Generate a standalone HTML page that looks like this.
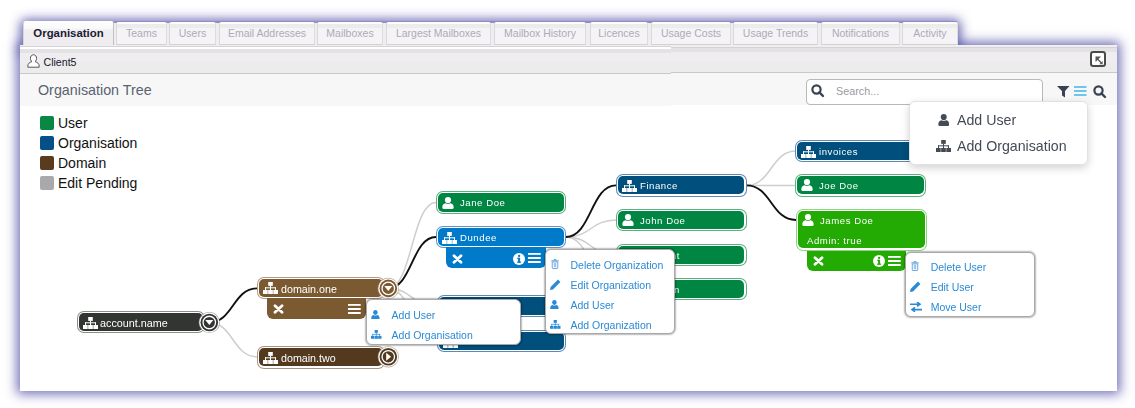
<!DOCTYPE html>
<html><head><meta charset="utf-8"><style>
*{box-sizing:border-box;margin:0;padding:0}
html,body{width:1135px;height:408px;overflow:hidden;background:#fff;font-family:"Liberation Sans",sans-serif}
.abs{position:absolute}
#shadow1{position:absolute;left:20px;top:45px;width:1097px;height:346px;box-shadow:0 0 11px 3px rgba(92,90,172,0.88)}
#shadow2{position:absolute;left:23px;top:22px;width:935px;height:30px;box-shadow:0 0 11px 3px rgba(92,90,172,0.88);border-radius:3px 3px 0 0}
#panel{position:absolute;left:20px;top:45px;width:1097px;height:346px;background:#fff}
#tabbar{position:absolute;left:23px;top:23px;width:935px;height:23px;background:#efedf1}
#notch{position:absolute;left:24px;top:21px;width:933px;height:2.5px;background:#8f8dc4}
.tab{position:absolute;top:21.5px;height:23.5px;background:linear-gradient(#fcfcfc 0,#fcfcfc 1.5px,#ececec 2px,#ececec 6.5px,#f6f3f6 6.5px);border-left:1px solid #d9d9d9;border-right:1px solid #dddddd;border-bottom:1px solid #d2d2d2;border-radius:2px 2px 0 0;font-size:10.5px;color:#acabb8;text-align:center;line-height:23px;white-space:nowrap}
.tab.act{top:21px;background:linear-gradient(#fdfdfd 0,#fbfafb 7px,#f0eef1 9px,#eeecef 24px);font-weight:bold;color:#1d1b33;font-size:11.4px;border-left:1px solid #d8d6da;border-right:1px solid #c0c0c0;border-bottom:none;height:25px;line-height:25px}
.node{position:absolute;border:1px solid #fff}
.ntext{position:absolute;color:#fff;white-space:nowrap;line-height:14px;will-change:transform}
.menu{position:absolute;background:#fff;border:1px solid #a9a9a9;border-radius:6px;box-shadow:0 0 1.5px 0.5px rgba(0,0,0,0.28)}
.mtext{position:absolute;color:#2a8ad6;white-space:nowrap;line-height:14px}
.leg{position:absolute;left:40px;width:14px;height:14px;border-radius:2px}
.legt{position:absolute;left:58px;font-size:14px;color:#111;line-height:16px;white-space:nowrap}
</style></head><body>
<div id="shadow2"></div><div id="shadow1"></div><div id="notch"></div><div id="tabbar"></div>
<div class="tab act" style="left:23px;width:91px">Organisation</div>
<div class="tab" style="left:116px;width:51px">Teams</div>
<div class="tab" style="left:169px;width:47px">Users</div>
<div class="tab" style="left:219px;width:96px">Email Addresses</div>
<div class="tab" style="left:317px;width:66px">Mailboxes</div>
<div class="tab" style="left:386px;width:105px">Largest Mailboxes</div>
<div class="tab" style="left:494px;width:92px">Mailbox History</div>
<div class="tab" style="left:590px;width:58px">Licences</div>
<div class="tab" style="left:651px;width:80px">Usage Costs</div>
<div class="tab" style="left:733px;width:85px">Usage Trends</div>
<div class="tab" style="left:821px;width:79px">Notifications</div>
<div class="tab" style="left:902px;width:56px">Activity</div>
<div id="panel"></div>
<div class="abs" style="left:20px;top:45px;width:651px;height:1px;background:#f0eef1"></div><div class="abs" style="left:20px;top:46px;width:651px;height:1px;background:#d3d2d4"></div><div class="abs" style="left:20px;top:47px;width:651px;height:2px;background:#ffffff"></div><div class="abs" style="left:20px;top:49px;width:651px;height:4px;background:#e3e3e3"></div><div class="abs" style="left:20px;top:53px;width:651px;height:10px;background:#efedf0"></div><div class="abs" style="left:20px;top:63px;width:651px;height:10px;background:#ececec"></div><div class="abs" style="left:20px;top:73px;width:651px;height:1px;background:#c9c9c9"></div><div class="abs" style="left:20px;top:74px;width:651px;height:32px;background:#f7f7f7"></div>
<div class="abs" style="left:671px;top:45px;width:446px;height:2px;background:#f0eef1"></div><div class="abs" style="left:671px;top:47px;width:446px;height:1px;background:#d4d4d4"></div><div class="abs" style="left:671px;top:48px;width:446px;height:4px;background:#e3e3e3"></div><div class="abs" style="left:671px;top:52px;width:446px;height:10px;background:#efedf0"></div><div class="abs" style="left:671px;top:62px;width:446px;height:10px;background:#ececec"></div><div class="abs" style="left:671px;top:72px;width:446px;height:1px;background:#c9c9c9"></div><div class="abs" style="left:671px;top:73px;width:446px;height:32px;background:#f7f7f7"></div>
<div class="abs" style="left:20px;top:45px;width:93px;height:1px;background:#efedf0"></div>
<svg class="abs" style="left:27px;top:54px" width="13" height="14" viewBox="0 0 13 14"><path d="M6.5 0.8 C4.6 0.8 3.4 2.4 3.4 4.3 C3.4 5.8 4.2 7 5 7.6 C2.5 8.3 0.8 9.6 0.8 12.2 V13.2 H12.2 V12.2 C12.2 9.6 10.5 8.3 8 7.6 C8.8 7 9.6 5.8 9.6 4.3 C9.6 2.4 8.4 0.8 6.5 0.8 Z" fill="#fff" stroke="#555" stroke-width="1"/></svg>
<div class="abs" style="left:43.5px;top:55px;font-size:10.6px;color:#14142a;line-height:14px">Client5</div>
<svg class="abs" style="left:1090px;top:51px" width="16" height="16" viewBox="0 0 16 16"><rect x="1" y="1" width="14" height="14" rx="2.2" fill="#fff" stroke="#4a4a4a" stroke-width="2"/><path d="M5.5 5.5 L11 5.5 L5.5 11 Z" fill="#555"/><path d="M7.5 8 L11.5 12" stroke="#555" stroke-width="1.2"/><path d="M12.6 10 L12.6 13.2 L9.4 13.2 Z" fill="#555"/></svg>
<div class="abs" style="left:38px;top:81px;font-size:14.3px;color:#5a6270;line-height:18px;white-space:nowrap">Organisation Tree</div>
<div class="abs" style="left:806px;top:79px;width:237px;height:26px;background:#fff;border:1px solid #b8b8b8;border-radius:4px"></div>
<svg class="abs" style="left:811px;top:84px" width="14" height="14" viewBox="0 0 14 14"><circle cx="5.5" cy="5.5" r="4.1" fill="none" stroke="#3a4252" stroke-width="2.2"/><path d="M8.4 8.4 L12 12" stroke="#3a4252" stroke-width="2.4" stroke-linecap="round"/></svg>
<div class="abs" style="left:836px;top:84px;font-size:10.8px;color:#9a9aa2;line-height:14px">Search...</div>
<svg class="abs" style="left:1057px;top:86px" width="13" height="12" viewBox="0 0 13 12"><path d="M0 0 H12.5 L8 5 V11.5 L5 9.5 V5 Z" fill="#3a4252"/></svg>
<svg class="abs" style="left:1074px;top:86px" width="13" height="10" viewBox="0 0 13 10"><rect x="0" y="0" width="12.5" height="2" fill="#6ec6ec"/><rect x="0" y="4" width="12.5" height="2" fill="#6ec6ec"/><rect x="0" y="8" width="12.5" height="2" fill="#6ec6ec"/></svg>
<svg class="abs" style="left:1093px;top:85px" width="14" height="14" viewBox="0 0 14 14"><circle cx="5.5" cy="5.5" r="4.1" fill="none" stroke="#3a4252" stroke-width="2.2"/><path d="M8.4 8.4 L12 12" stroke="#3a4252" stroke-width="2.4" stroke-linecap="round"/></svg>
<div class="leg" style="top:116px;background:#098745"></div><div class="legt" style="top:115px">User</div>
<div class="leg" style="top:136px;background:#06508a"></div><div class="legt" style="top:135px">Organisation</div>
<div class="leg" style="top:156px;background:#5a3b1e"></div><div class="legt" style="top:155px">Domain</div>
<div class="leg" style="top:176px;background:#a9a9ab"></div><div class="legt" style="top:175px">Edit Pending</div>
<svg class="abs" style="left:0;top:0" width="1135" height="408"><path d="M209,322.6 C233.0,322.6 233.0,356.8 257,356.8" fill="none" stroke="#cecece" stroke-width="1.5"/><path d="M388,288.4 C412.0,288.4 412.0,202.5 436,202.5" fill="none" stroke="#cecece" stroke-width="1.5"/><path d="M388,288.4 C412.0,288.4 412.0,306.3 436,306.3" fill="none" stroke="#cecece" stroke-width="1.5"/><path d="M388,288.4 C412.0,288.4 412.0,341 436,341" fill="none" stroke="#cecece" stroke-width="1.5"/><path d="M566,237 C591.0,237 591.0,220 616,220" fill="none" stroke="#cecece" stroke-width="1.5"/><path d="M566,237 C591.0,237 591.0,255 616,255" fill="none" stroke="#cecece" stroke-width="1.5"/><path d="M566,237 C591.0,237 591.0,289 616,289" fill="none" stroke="#cecece" stroke-width="1.5"/><path d="M746.5,185.4 C771.25,185.4 771.25,151 796,151" fill="none" stroke="#cecece" stroke-width="1.5"/><path d="M746.5,185.4 C771.25,185.4 771.25,185.4 796,185.4" fill="none" stroke="#cecece" stroke-width="1.5"/><path d="M209,322.6 C233.0,322.6 233.0,288.4 257,288.4" fill="none" stroke="#111" stroke-width="1.9"/><path d="M388,288.4 C412.0,288.4 412.0,237 436,237" fill="none" stroke="#111" stroke-width="1.9"/><path d="M566,237 C591.0,237 591.0,185.4 616,185.4" fill="none" stroke="#111" stroke-width="1.9"/><path d="M746.5,185.4 C771.25,185.4 771.25,220 796,220" fill="none" stroke="#111" stroke-width="1.9"/></svg>
<div class="abs" style="left:77px;top:311px;width:128px;height:22px;background:#8c8c8c;border-radius:7px"></div><div class="abs" style="left:78px;top:312px;width:126px;height:20px;background:#fff;border-radius:6px"></div><div class="abs" style="left:79.4px;top:313.4px;width:123.2px;height:17.2px;background:#333532;border-radius:5px"></div><svg class="abs" style="left:83px;top:316.7px" width="15" height="12" viewBox="0 0 15 12" preserveAspectRatio="none"><g fill="#fff"><rect x="5.2" y="0" width="4.6" height="3.9"/><rect x="7" y="3.9" width="1" height="1.5"/><rect x="2" y="5.3" width="11" height="1"/><rect x="2" y="5.3" width="1" height="2.7"/><rect x="12" y="5.3" width="1" height="2.7"/><rect x="7" y="5.3" width="1" height="2.7"/><rect x="0" y="8" width="4.7" height="4"/><rect x="5.15" y="8" width="4.7" height="4"/><rect x="10.3" y="8" width="4.7" height="4"/></g></svg><div class="ntext" style="left:100px;top:315.8px;font-size:10.8px;letter-spacing:0px">account.name</div>
<svg class="abs" style="left:0;top:0" width="1135" height="408"><circle cx="209.3" cy="322.5" r="10.6" fill="#8c8c8c" opacity="0.8"/><circle cx="209.3" cy="322.5" r="10" fill="#fff"/><circle cx="209.3" cy="322.5" r="8.8" fill="#333532"/><circle cx="209.3" cy="322.5" r="6.25" fill="none" stroke="#fff" stroke-width="1.3"/><path d="M205.3,320.1 L213.3,320.1 L209.3,325.0 Z" fill="#fff"/></svg>
<div class="abs" style="left:257px;top:276.5px;width:128px;height:22.5px;background:#b49c84;border-radius:7px"></div><div class="abs" style="left:258px;top:277.5px;width:126px;height:20.5px;background:#fff;border-radius:6px"></div><div class="abs" style="left:259.4px;top:278.9px;width:123.2px;height:17.7px;background:#7b5a32;border-radius:5px"></div><svg class="abs" style="left:263px;top:282.45px" width="15" height="12" viewBox="0 0 15 12" preserveAspectRatio="none"><g fill="#fff"><rect x="5.2" y="0" width="4.6" height="3.9"/><rect x="7" y="3.9" width="1" height="1.5"/><rect x="2" y="5.3" width="11" height="1"/><rect x="2" y="5.3" width="1" height="2.7"/><rect x="12" y="5.3" width="1" height="2.7"/><rect x="7" y="5.3" width="1" height="2.7"/><rect x="0" y="8" width="4.7" height="4"/><rect x="5.15" y="8" width="4.7" height="4"/><rect x="10.3" y="8" width="4.7" height="4"/></g></svg><div class="ntext" style="left:280.5px;top:281.55px;font-size:10.7px;letter-spacing:0px">domain.one</div>
<div class="abs" style="left:267px;top:297.5px;width:99px;height:21.0px;background:#7b5a32;border-radius:0 0 6px 6px"></div><svg class="abs" style="left:273.0px;top:304.0px" width="11" height="10" viewBox="0 0 11 10"><path d="M2 1.8 L9 8.2 M9 1.8 L2 8.2" stroke="#fff" stroke-width="2.8" stroke-linecap="round"/></svg><svg class="abs" style="left:348px;top:303.5px" width="13" height="10" viewBox="0 0 13 10"><rect x="0" y="0" width="12.7" height="1.8" fill="#fff"/><rect x="0" y="4" width="12.7" height="2" fill="#fff"/><rect x="0" y="8" width="12.7" height="2" fill="#fff"/></svg>
<svg class="abs" style="left:0;top:0" width="1135" height="408"><circle cx="388.3" cy="288.4" r="10.6" fill="#b49c84" opacity="0.8"/><circle cx="388.3" cy="288.4" r="10" fill="#fff"/><circle cx="388.3" cy="288.4" r="8.8" fill="#7b5a32"/><circle cx="388.3" cy="288.4" r="6.25" fill="none" stroke="#fff" stroke-width="1.3"/><path d="M384.3,286.0 L392.3,286.0 L388.3,290.9 Z" fill="#fff"/></svg>
<div class="abs" style="left:257px;top:345.5px;width:128px;height:23.0px;background:#a89684;border-radius:7px"></div><div class="abs" style="left:258px;top:346.5px;width:126px;height:21.0px;background:#fff;border-radius:6px"></div><div class="abs" style="left:259.4px;top:347.9px;width:123.2px;height:18.2px;background:#533a1f;border-radius:5px"></div><svg class="abs" style="left:263px;top:351.7px" width="15" height="12" viewBox="0 0 15 12" preserveAspectRatio="none"><g fill="#fff"><rect x="5.2" y="0" width="4.6" height="3.9"/><rect x="7" y="3.9" width="1" height="1.5"/><rect x="2" y="5.3" width="11" height="1"/><rect x="2" y="5.3" width="1" height="2.7"/><rect x="12" y="5.3" width="1" height="2.7"/><rect x="7" y="5.3" width="1" height="2.7"/><rect x="0" y="8" width="4.7" height="4"/><rect x="5.15" y="8" width="4.7" height="4"/><rect x="10.3" y="8" width="4.7" height="4"/></g></svg><div class="ntext" style="left:280.5px;top:350.8px;font-size:10.7px;letter-spacing:0px">domain.two</div>
<svg class="abs" style="left:0;top:0" width="1135" height="408"><circle cx="388.3" cy="356.8" r="10.6" fill="#a89684" opacity="0.8"/><circle cx="388.3" cy="356.8" r="10" fill="#fff"/><circle cx="388.3" cy="356.8" r="8.8" fill="#533a1f"/><circle cx="388.3" cy="356.8" r="6.25" fill="none" stroke="#fff" stroke-width="1.3"/><path d="M386.2,352.8 L386.2,360.8 L391.1,356.8 Z" fill="#fff"/></svg>
<div class="abs" style="left:436px;top:191px;width:130px;height:23px;background:#5bb07f;border-radius:7px"></div><div class="abs" style="left:437px;top:192px;width:128px;height:21px;background:#fff;border-radius:6px"></div><div class="abs" style="left:438.4px;top:193.4px;width:125.2px;height:18.2px;background:#018542;border-radius:5px"></div><svg class="abs" style="left:442px;top:196.5px" width="12" height="12" viewBox="0 0 12 12" preserveAspectRatio="none"><g fill="#fff"><circle cx="6" cy="3.1" r="3.1"/><path d="M0.3 10.6 C0.3 8 1.6 6.6 3.5 6.3 Q6 7.9 8.5 6.3 C10.4 6.6 11.7 8 11.7 10.6 Q11.7 12 10.5 12 H1.5 Q0.3 12 0.3 10.6 Z"/></g></svg><div class="ntext" style="left:460px;top:196.3px;font-size:9.6px;letter-spacing:0.55px">Jane Doe</div>
<div class="abs" style="left:436px;top:226px;width:130px;height:22.400000000000006px;background:#5a96cc;border-radius:7px"></div><div class="abs" style="left:437px;top:227px;width:128px;height:20.400000000000006px;background:#fff;border-radius:6px"></div><div class="abs" style="left:438.4px;top:228.4px;width:125.2px;height:17.600000000000005px;background:#007ac9;border-radius:5px"></div><svg class="abs" style="left:442px;top:231.89999999999998px" width="15" height="12" viewBox="0 0 15 12" preserveAspectRatio="none"><g fill="#fff"><rect x="5.2" y="0" width="4.6" height="3.9"/><rect x="7" y="3.9" width="1" height="1.5"/><rect x="2" y="5.3" width="11" height="1"/><rect x="2" y="5.3" width="1" height="2.7"/><rect x="12" y="5.3" width="1" height="2.7"/><rect x="7" y="5.3" width="1" height="2.7"/><rect x="0" y="8" width="4.7" height="4"/><rect x="5.15" y="8" width="4.7" height="4"/><rect x="10.3" y="8" width="4.7" height="4"/></g></svg><div class="ntext" style="left:460px;top:231.0px;font-size:9.6px;letter-spacing:0.55px">Dundee</div>
<div class="abs" style="left:446px;top:247px;width:100px;height:21px;background:#007ac9;border-radius:0 0 6px 6px"></div><svg class="abs" style="left:452.0px;top:253.5px" width="11" height="10" viewBox="0 0 11 10"><path d="M2 1.8 L9 8.2 M9 1.8 L2 8.2" stroke="#fff" stroke-width="2.8" stroke-linecap="round"/></svg><svg class="abs" style="left:528px;top:253.0px" width="13" height="10" viewBox="0 0 13 10"><rect x="0" y="0" width="12.7" height="1.8" fill="#fff"/><rect x="0" y="4" width="12.7" height="2" fill="#fff"/><rect x="0" y="8" width="12.7" height="2" fill="#fff"/></svg><svg class="abs" style="left:513px;top:252.5px" width="12" height="12" viewBox="0 0 12 12"><circle cx="6" cy="6" r="6" fill="#fff"/><rect x="5.1" y="4.8" width="2" height="4.6" fill="#007ac9"/><rect x="4.1" y="4.8" width="2" height="1.1" fill="#007ac9"/><rect x="4.1" y="8.6" width="4" height="1.2" fill="#007ac9"/><circle cx="6.1" cy="3" r="1.15" fill="#007ac9"/></svg>
<div class="abs" style="left:437px;top:295px;width:129px;height:22px;background:#5b8ab5;border-radius:7px"></div><div class="abs" style="left:438px;top:296px;width:127px;height:20px;background:#fff;border-radius:6px"></div><div class="abs" style="left:439.4px;top:297.4px;width:124.2px;height:17.2px;background:#004f7c;border-radius:5px"></div><svg class="abs" style="left:443px;top:300.7px" width="15" height="12" viewBox="0 0 15 12" preserveAspectRatio="none"><g fill="#fff"><rect x="5.2" y="0" width="4.6" height="3.9"/><rect x="7" y="3.9" width="1" height="1.5"/><rect x="2" y="5.3" width="11" height="1"/><rect x="2" y="5.3" width="1" height="2.7"/><rect x="12" y="5.3" width="1" height="2.7"/><rect x="7" y="5.3" width="1" height="2.7"/><rect x="0" y="8" width="4.7" height="4"/><rect x="5.15" y="8" width="4.7" height="4"/><rect x="10.3" y="8" width="4.7" height="4"/></g></svg><div class="ntext" style="left:461px;top:299.8px;font-size:9.6px;letter-spacing:0.55px">Hobart</div>
<div class="abs" style="left:437px;top:330px;width:129px;height:22px;background:#5b8ab5;border-radius:7px"></div><div class="abs" style="left:438px;top:331px;width:127px;height:20px;background:#fff;border-radius:6px"></div><div class="abs" style="left:439.4px;top:332.4px;width:124.2px;height:17.2px;background:#004f7c;border-radius:5px"></div><svg class="abs" style="left:443px;top:335.7px" width="15" height="12" viewBox="0 0 15 12" preserveAspectRatio="none"><g fill="#fff"><rect x="5.2" y="0" width="4.6" height="3.9"/><rect x="7" y="3.9" width="1" height="1.5"/><rect x="2" y="5.3" width="11" height="1"/><rect x="2" y="5.3" width="1" height="2.7"/><rect x="12" y="5.3" width="1" height="2.7"/><rect x="7" y="5.3" width="1" height="2.7"/><rect x="0" y="8" width="4.7" height="4"/><rect x="5.15" y="8" width="4.7" height="4"/><rect x="10.3" y="8" width="4.7" height="4"/></g></svg><div class="ntext" style="left:461px;top:334.8px;font-size:9.6px;letter-spacing:0.55px">Hobart</div>
<div class="abs" style="left:616px;top:174px;width:130.5px;height:22.599999999999994px;background:#5b8ab5;border-radius:7px"></div><div class="abs" style="left:617px;top:175px;width:128.5px;height:20.599999999999994px;background:#fff;border-radius:6px"></div><div class="abs" style="left:618.4px;top:176.4px;width:125.7px;height:17.799999999999994px;background:#004f7c;border-radius:5px"></div><svg class="abs" style="left:622px;top:180.0px" width="15" height="12" viewBox="0 0 15 12" preserveAspectRatio="none"><g fill="#fff"><rect x="5.2" y="0" width="4.6" height="3.9"/><rect x="7" y="3.9" width="1" height="1.5"/><rect x="2" y="5.3" width="11" height="1"/><rect x="2" y="5.3" width="1" height="2.7"/><rect x="12" y="5.3" width="1" height="2.7"/><rect x="7" y="5.3" width="1" height="2.7"/><rect x="0" y="8" width="4.7" height="4"/><rect x="5.15" y="8" width="4.7" height="4"/><rect x="10.3" y="8" width="4.7" height="4"/></g></svg><div class="ntext" style="left:640px;top:179.10000000000002px;font-size:9.6px;letter-spacing:0.55px">Finance</div>
<div class="abs" style="left:616px;top:209px;width:130.5px;height:22.400000000000006px;background:#5bb07f;border-radius:7px"></div><div class="abs" style="left:617px;top:210px;width:128.5px;height:20.400000000000006px;background:#fff;border-radius:6px"></div><div class="abs" style="left:618.4px;top:211.4px;width:125.7px;height:17.600000000000005px;background:#018542;border-radius:5px"></div><svg class="abs" style="left:622px;top:214.2px" width="12" height="12" viewBox="0 0 12 12" preserveAspectRatio="none"><g fill="#fff"><circle cx="6" cy="3.1" r="3.1"/><path d="M0.3 10.6 C0.3 8 1.6 6.6 3.5 6.3 Q6 7.9 8.5 6.3 C10.4 6.6 11.7 8 11.7 10.6 Q11.7 12 10.5 12 H1.5 Q0.3 12 0.3 10.6 Z"/></g></svg><div class="ntext" style="left:640px;top:214.0px;font-size:9.6px;letter-spacing:0.55px">John Doe</div>
<div class="abs" style="left:616px;top:244px;width:130.5px;height:22px;background:#5bb07f;border-radius:7px"></div><div class="abs" style="left:617px;top:245px;width:128.5px;height:20px;background:#fff;border-radius:6px"></div><div class="abs" style="left:618.4px;top:246.4px;width:125.7px;height:17.2px;background:#018542;border-radius:5px"></div><svg class="abs" style="left:622px;top:249.0px" width="12" height="12" viewBox="0 0 12 12" preserveAspectRatio="none"><g fill="#fff"><circle cx="6" cy="3.1" r="3.1"/><path d="M0.3 10.6 C0.3 8 1.6 6.6 3.5 6.3 Q6 7.9 8.5 6.3 C10.4 6.6 11.7 8 11.7 10.6 Q11.7 12 10.5 12 H1.5 Q0.3 12 0.3 10.6 Z"/></g></svg><div class="ntext" style="left:640px;top:248.8px;font-size:9.6px;letter-spacing:0.55px"></div>
<div class="ntext" style="left:620px;width:60px;text-align:right;top:249px;font-size:9.5px;letter-spacing:0.7px">Jim Hunt</div>
<div class="abs" style="left:616px;top:278px;width:130.5px;height:22px;background:#5bb07f;border-radius:7px"></div><div class="abs" style="left:617px;top:279px;width:128.5px;height:20px;background:#fff;border-radius:6px"></div><div class="abs" style="left:618.4px;top:280.4px;width:125.7px;height:17.2px;background:#018542;border-radius:5px"></div><svg class="abs" style="left:622px;top:283.0px" width="12" height="12" viewBox="0 0 12 12" preserveAspectRatio="none"><g fill="#fff"><circle cx="6" cy="3.1" r="3.1"/><path d="M0.3 10.6 C0.3 8 1.6 6.6 3.5 6.3 Q6 7.9 8.5 6.3 C10.4 6.6 11.7 8 11.7 10.6 Q11.7 12 10.5 12 H1.5 Q0.3 12 0.3 10.6 Z"/></g></svg><div class="ntext" style="left:640px;top:282.8px;font-size:9.6px;letter-spacing:0.55px"></div>
<div class="ntext" style="left:620px;width:60px;text-align:right;top:283px;font-size:9.5px;letter-spacing:0.7px">Jo Dunn</div>
<div class="abs" style="left:795px;top:140px;width:140px;height:22.400000000000006px;background:#5b8ab5;border-radius:7px"></div><div class="abs" style="left:796px;top:141px;width:138px;height:20.400000000000006px;background:#fff;border-radius:6px"></div><div class="abs" style="left:797.4px;top:142.4px;width:135.2px;height:17.600000000000005px;background:#004f7c;border-radius:5px"></div><svg class="abs" style="left:801px;top:145.89999999999998px" width="15" height="12" viewBox="0 0 15 12" preserveAspectRatio="none"><g fill="#fff"><rect x="5.2" y="0" width="4.6" height="3.9"/><rect x="7" y="3.9" width="1" height="1.5"/><rect x="2" y="5.3" width="11" height="1"/><rect x="2" y="5.3" width="1" height="2.7"/><rect x="12" y="5.3" width="1" height="2.7"/><rect x="7" y="5.3" width="1" height="2.7"/><rect x="0" y="8" width="4.7" height="4"/><rect x="5.15" y="8" width="4.7" height="4"/><rect x="10.3" y="8" width="4.7" height="4"/></g></svg><div class="ntext" style="left:819px;top:145.0px;font-size:9.6px;letter-spacing:0.55px">invoices</div>
<div class="abs" style="left:795px;top:174px;width:131.39999999999998px;height:22.69999999999999px;background:#5bb07f;border-radius:7px"></div><div class="abs" style="left:796px;top:175px;width:129.39999999999998px;height:20.69999999999999px;background:#fff;border-radius:6px"></div><div class="abs" style="left:797.4px;top:176.4px;width:126.59999999999998px;height:17.899999999999988px;background:#018542;border-radius:5px"></div><svg class="abs" style="left:801px;top:179.35px" width="12" height="12" viewBox="0 0 12 12" preserveAspectRatio="none"><g fill="#fff"><circle cx="6" cy="3.1" r="3.1"/><path d="M0.3 10.6 C0.3 8 1.6 6.6 3.5 6.3 Q6 7.9 8.5 6.3 C10.4 6.6 11.7 8 11.7 10.6 Q11.7 12 10.5 12 H1.5 Q0.3 12 0.3 10.6 Z"/></g></svg><div class="ntext" style="left:819px;top:179.15px;font-size:9.6px;letter-spacing:0.55px">Joe Doe</div>
<div class="abs" style="left:806.5px;top:249.5px;width:99.5px;height:21.0px;background:#23aa03;border-radius:0 0 6px 6px"></div><svg class="abs" style="left:812.5px;top:256.0px" width="11" height="10" viewBox="0 0 11 10"><path d="M2 1.8 L9 8.2 M9 1.8 L2 8.2" stroke="#fff" stroke-width="2.8" stroke-linecap="round"/></svg><svg class="abs" style="left:888px;top:255.5px" width="13" height="10" viewBox="0 0 13 10"><rect x="0" y="0" width="12.7" height="1.8" fill="#fff"/><rect x="0" y="4" width="12.7" height="2" fill="#fff"/><rect x="0" y="8" width="12.7" height="2" fill="#fff"/></svg><svg class="abs" style="left:873px;top:255.0px" width="12" height="12" viewBox="0 0 12 12"><circle cx="6" cy="6" r="6" fill="#fff"/><rect x="5.1" y="4.8" width="2" height="4.6" fill="#23aa03"/><rect x="4.1" y="4.8" width="2" height="1.1" fill="#23aa03"/><rect x="4.1" y="8.6" width="4" height="1.2" fill="#23aa03"/><circle cx="6.1" cy="3" r="1.15" fill="#23aa03"/></svg>
<div class="abs" style="left:796px;top:209px;width:131px;height:41.5px;background:#8fd684;border-radius:7px"></div><div class="abs" style="left:797px;top:210px;width:129px;height:39.5px;background:#fff;border-radius:6px"></div><div class="abs" style="left:798.4px;top:211.4px;width:126.2px;height:36.7px;background:#23aa03;border-radius:5px"></div><svg class="abs" style="left:802px;top:214.3px" width="12" height="12" viewBox="0 0 12 12" preserveAspectRatio="none"><g fill="#fff"><circle cx="6" cy="3.1" r="3.1"/><path d="M0.3 10.6 C0.3 8 1.6 6.6 3.5 6.3 Q6 7.9 8.5 6.3 C10.4 6.6 11.7 8 11.7 10.6 Q11.7 12 10.5 12 H1.5 Q0.3 12 0.3 10.6 Z"/></g></svg><div class="ntext" style="left:819.5px;top:214.10000000000002px;font-size:9.6px;letter-spacing:0.55px">James Doe</div>
<div class="ntext" style="left:807px;top:233.5px;font-size:9.6px;letter-spacing:0.55px">Admin: true</div>
<div class="menu" style="left:366px;top:299px;width:155px;height:46px"></div><svg class="abs" style="left:371.2px;top:309.7px" width="8.8" height="9.5" viewBox="0 0 12 12" preserveAspectRatio="none"><g fill="#2a8ad6"><circle cx="6" cy="3.1" r="3.1"/><path d="M0.3 10.6 C0.3 8 1.6 6.6 3.5 6.3 Q6 7.9 8.5 6.3 C10.4 6.6 11.7 8 11.7 10.6 Q11.7 12 10.5 12 H1.5 Q0.3 12 0.3 10.6 Z"/></g></svg><div class="mtext" style="left:391.6px;top:308.3px;font-size:10.5px">Add User</div><svg class="abs" style="left:371px;top:330.1px" width="10.5" height="8.8" viewBox="0 0 15 12" preserveAspectRatio="none"><g fill="#2a8ad6"><rect x="5.2" y="0" width="4.6" height="3.9"/><rect x="7" y="3.9" width="1" height="1.5"/><rect x="2" y="5.3" width="11" height="1"/><rect x="2" y="5.3" width="1" height="2.7"/><rect x="12" y="5.3" width="1" height="2.7"/><rect x="7" y="5.3" width="1" height="2.7"/><rect x="0" y="8" width="4.7" height="4"/><rect x="5.15" y="8" width="4.7" height="4"/><rect x="10.3" y="8" width="4.7" height="4"/></g></svg><div class="mtext" style="left:391.6px;top:328.3px;font-size:10.5px">Add Organisation</div>
<div class="menu" style="left:545px;top:248.6px;width:130px;height:85.79999999999998px"></div><svg class="abs" style="left:550.5px;top:259.0px" width="8" height="10" viewBox="0 0 9 11"><rect x="0.3" y="1.3" width="8.4" height="1.3" fill="#6aa6dd"/><rect x="3" y="0" width="3" height="1.4" fill="#6aa6dd"/><path d="M1.4 3.2 H7.6 V10 Q7.6 10.6 7 10.6 H2 Q1.4 10.6 1.4 10 Z" fill="none" stroke="#6aa6dd" stroke-width="1.1"/><rect x="3.2" y="4.4" width="0.9" height="4.8" fill="#6aa6dd"/><rect x="4.9" y="4.4" width="0.9" height="4.8" fill="#6aa6dd"/></svg><div class="mtext" style="left:570.5px;top:258.3px;font-size:10.5px">Delete Organization</div><svg class="abs" style="left:550px;top:279.0px" width="11" height="11" viewBox="0 0 11 11"><path d="M0 11 L0.6 8 L8 0.6 L10.4 3 L3 10.4 Z" fill="#2a8ad6"/></svg><div class="mtext" style="left:570.5px;top:278.3px;font-size:10.5px">Edit Organization</div><svg class="abs" style="left:550.2px;top:299.7px" width="8.8" height="9.5" viewBox="0 0 12 12" preserveAspectRatio="none"><g fill="#2a8ad6"><circle cx="6" cy="3.1" r="3.1"/><path d="M0.3 10.6 C0.3 8 1.6 6.6 3.5 6.3 Q6 7.9 8.5 6.3 C10.4 6.6 11.7 8 11.7 10.6 Q11.7 12 10.5 12 H1.5 Q0.3 12 0.3 10.6 Z"/></g></svg><div class="mtext" style="left:570.5px;top:298.3px;font-size:10.5px">Add User</div><svg class="abs" style="left:550px;top:320.1px" width="10.5" height="8.8" viewBox="0 0 15 12" preserveAspectRatio="none"><g fill="#2a8ad6"><rect x="5.2" y="0" width="4.6" height="3.9"/><rect x="7" y="3.9" width="1" height="1.5"/><rect x="2" y="5.3" width="11" height="1"/><rect x="2" y="5.3" width="1" height="2.7"/><rect x="12" y="5.3" width="1" height="2.7"/><rect x="7" y="5.3" width="1" height="2.7"/><rect x="0" y="8" width="4.7" height="4"/><rect x="5.15" y="8" width="4.7" height="4"/><rect x="10.3" y="8" width="4.7" height="4"/></g></svg><div class="mtext" style="left:570.5px;top:318.3px;font-size:10.5px">Add Organization</div>
<div class="menu" style="left:905px;top:252px;width:130px;height:64.60000000000002px"></div><svg class="abs" style="left:910.5px;top:261.0px" width="8" height="10" viewBox="0 0 9 11"><rect x="0.3" y="1.3" width="8.4" height="1.3" fill="#6aa6dd"/><rect x="3" y="0" width="3" height="1.4" fill="#6aa6dd"/><path d="M1.4 3.2 H7.6 V10 Q7.6 10.6 7 10.6 H2 Q1.4 10.6 1.4 10 Z" fill="none" stroke="#6aa6dd" stroke-width="1.1"/><rect x="3.2" y="4.4" width="0.9" height="4.8" fill="#6aa6dd"/><rect x="4.9" y="4.4" width="0.9" height="4.8" fill="#6aa6dd"/></svg><div class="mtext" style="left:930.7px;top:260.3px;font-size:10.5px">Delete User</div><svg class="abs" style="left:910px;top:281.0px" width="11" height="11" viewBox="0 0 11 11"><path d="M0 11 L0.6 8 L8 0.6 L10.4 3 L3 10.4 Z" fill="#2a8ad6"/></svg><div class="mtext" style="left:930.7px;top:280.3px;font-size:10.5px">Edit User</div><svg class="abs" style="left:910px;top:301.5px" width="12" height="10" viewBox="0 0 12 10"><path d="M0 2.2 H9 M7 0 L10 2.2 L7 4.4" stroke="#2a8ad6" stroke-width="1.6" fill="none"/><path d="M12 7.6 H3 M5 5.4 L2 7.6 L5 9.8" stroke="#2a8ad6" stroke-width="1.6" fill="none"/></svg><div class="mtext" style="left:930.7px;top:300.3px;font-size:10.5px">Move User</div>
<div class="abs" style="left:909px;top:100.5px;width:179px;height:64px;background:#fff;border:1px solid #e2e2e2;border-radius:6px;box-shadow:0 3px 8px rgba(0,0,0,0.18)"></div>
<svg class="abs" style="left:937.5px;top:113.5px" width="11.5" height="12" viewBox="0 0 12 12" preserveAspectRatio="none"><g fill="#454b56"><circle cx="6" cy="3.1" r="3.1"/><path d="M0.3 10.6 C0.3 8 1.6 6.6 3.5 6.3 Q6 7.9 8.5 6.3 C10.4 6.6 11.7 8 11.7 10.6 Q11.7 12 10.5 12 H1.5 Q0.3 12 0.3 10.6 Z"/></g></svg>
<div class="abs" style="left:957px;top:111px;font-size:14.2px;color:#454b56;line-height:18px;white-space:nowrap">Add User</div>
<svg class="abs" style="left:936px;top:140px" width="15" height="12" viewBox="0 0 15 12" preserveAspectRatio="none"><g fill="#454b56"><rect x="5.2" y="0" width="4.6" height="3.9"/><rect x="7" y="3.9" width="1" height="1.5"/><rect x="2" y="5.3" width="11" height="1"/><rect x="2" y="5.3" width="1" height="2.7"/><rect x="12" y="5.3" width="1" height="2.7"/><rect x="7" y="5.3" width="1" height="2.7"/><rect x="0" y="8" width="4.7" height="4"/><rect x="5.15" y="8" width="4.7" height="4"/><rect x="10.3" y="8" width="4.7" height="4"/></g></svg>
<div class="abs" style="left:957px;top:137px;font-size:14.2px;color:#454b56;line-height:18px;white-space:nowrap">Add Organisation</div>
</body></html>
